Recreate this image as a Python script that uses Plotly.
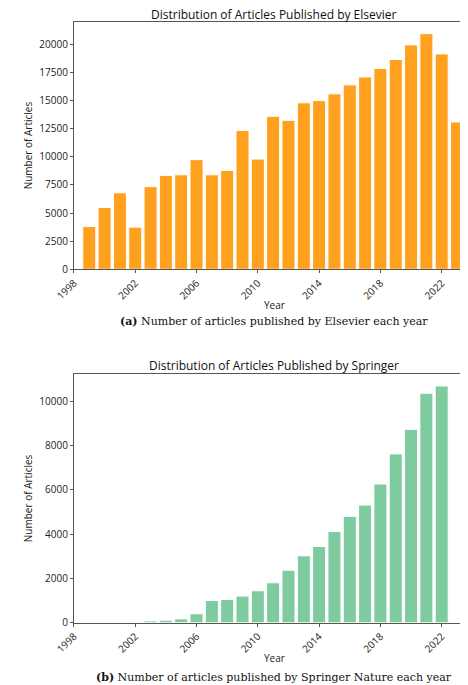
import plotly.graph_objects as go
from plotly.subplots import make_subplots

years_e = list(range(1999, 2024))
elsevier = [3800, 5500, 6800, 3750, 7350, 8350, 8400, 9750, 8400, 8800, 12350, 9800, 13600,
            13250, 14800, 15000, 15600, 16400, 17100, 17850, 18650, 19950, 20950, 19150, 13100]
years_s = list(range(1999, 2023))
springer = [0, 0, 10, 20, 80, 110, 170, 400, 1000, 1050, 1200, 1440, 1800, 2370, 3020, 3440,
            4120, 4800, 5310, 6260, 7620, 8730, 10360, 10690]
tick_years = [1998, 2002, 2006, 2010, 2014, 2018, 2022]

H = 685
fig = make_subplots(rows=2, cols=1)
fig.add_trace(go.Bar(x=years_e, y=elsevier, marker=dict(color="#FFA11F", line=dict(color="white", width=1)), width=0.85), 1, 1)
fig.add_trace(go.Bar(x=years_s, y=springer, marker=dict(color="#7DCB9E", line=dict(color="white", width=1)), width=0.85), 2, 1)

font = dict(family="Open Sans", size=10, color="#222")
ax = dict(showgrid=False, showline=True, mirror=True, linecolor="#555", linewidth=1, ticks="outside",
          ticklen=3, tickcolor="#555", tickfont=font, zeroline=False)
fig.update_xaxes(**ax, range=[1998, 2024.05], tickvals=tick_years, tickangle=-45)
fig.update_yaxes(**ax, tickformat="d", title=dict(text="Number of Articles", font=font, standoff=4))
fig.update_xaxes(domain=[48/468, 465/468], row=1, col=1)
fig.update_xaxes(domain=[48/468, 465/468], row=2, col=1)
fig.update_yaxes(domain=[1-264/H, 1-14/H], range=[0, 22000], tickvals=list(range(0, 20001, 2500)), row=1, col=1)
fig.update_yaxes(domain=[1-621/H, 1-370/H], range=[0, 11220], tickvals=list(range(0, 10001, 2000)), row=2, col=1)

tfont = dict(family="Open Sans", size=12, color="#111")
cfont = dict(family="DejaVu Serif", size=11, color="#111")
anns = [
    dict(text="Distribution of Articles Published by Elsevier", y=1-7/H, font=tfont),
    dict(text="Distribution of Articles Published by Springer", y=1-361/H, font=tfont),
    dict(text="Year", y=1-300/H, font=font),
    dict(text="Year", y=1-657/H, font=font),
    dict(text="<b>(a)</b> Number of articles published by Elsevier each year", y=1-317/H, font=cfont),
    dict(text="<b>(b)</b> Number of articles published by Springer Nature each year", y=1-676/H, font=cfont),
]
for a in anns:
    fig.add_annotation(x=257/468, xref="paper", yref="paper", showarrow=False, yanchor="middle", **a)

fig.update_layout(width=468, height=H, margin=dict(l=0, r=0, t=0, b=0), showlegend=False,
                  plot_bgcolor="white", paper_bgcolor="white", bargap=0.15)
fig.write_html("out.html")
